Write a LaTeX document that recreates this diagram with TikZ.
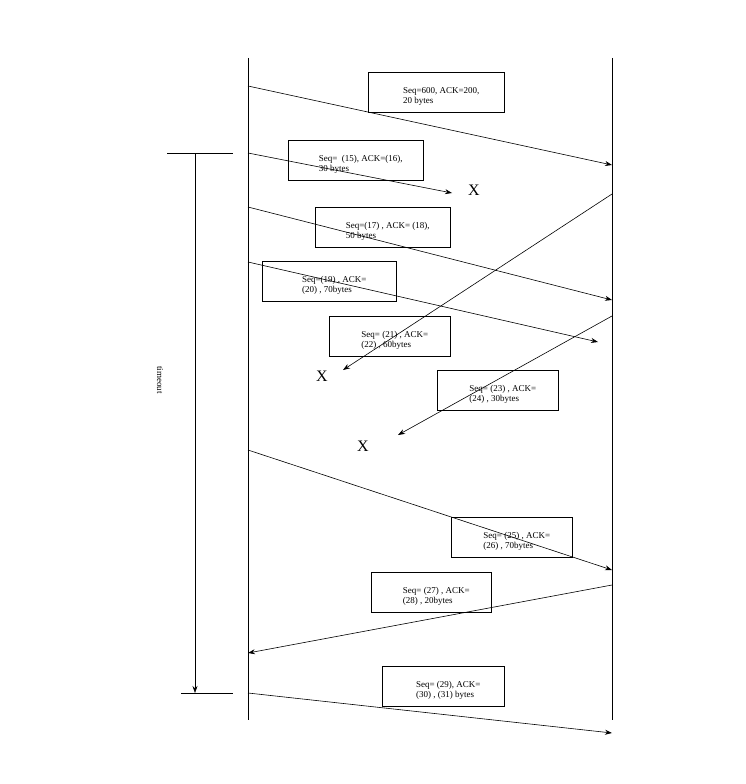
\documentclass[tikz,border=0pt]{standalone}
\usepackage{fontspec}
\setmainfont{Liberation Serif}
\usetikzlibrary{arrows.meta}
\begin{document}
\begin{tikzpicture}[x=1pt,y=-1pt,
  box/.style={draw,fill=white,line width=0.6pt,anchor=north west,minimum height=40pt,align=left,font=\fontsize{9}{10.5}\selectfont,inner sep=0pt,text depth=0pt},
  msg/.style={-{Stealth[length=7pt,width=5pt]},line width=0.6pt},
  xm/.style={font=\fontsize{16}{16}\selectfont}]
\useasboundingbox (0,0) rectangle (746,784);
\draw[line width=0.6pt] (248,58) -- (248,720);
\draw[line width=0.6pt] (612,58) -- (612,720);
% boxes
\node[box,minimum width=136pt] (A) at (368,72) {\hspace*{10pt}\begin{tabular}{@{}l@{}}Seq=600, ACK=200,\\20 bytes\end{tabular}};
\node[box,minimum width=135pt] (B) at (288,140) {\hspace*{10pt}\begin{tabular}{@{}l@{}}Seq=\ \ (15), ACK=(16),\\30 bytes\end{tabular}};
\node[box,minimum width=135pt] (C) at (315,207) {\hspace*{10pt}\begin{tabular}{@{}l@{}}Seq=(17) , ACK= (18),\\50 bytes\end{tabular}};
\node[box,minimum width=134pt] (D) at (262,261) {\hspace*{10pt}\begin{tabular}{@{}l@{}}Seq=(19) , ACK=\\(20) , 70bytes\end{tabular}};
\node[box,minimum width=121pt] (E) at (329,316) {\hspace*{10pt}\begin{tabular}{@{}l@{}}Seq= (21) , ACK=\\(22) , 60bytes\end{tabular}};
\node[box,minimum width=121pt] (F) at (437,370) {\hspace*{10pt}\begin{tabular}{@{}l@{}}Seq= (23) , ACK=\\(24) , 30bytes\end{tabular}};
\node[box,minimum width=121pt] (G) at (451,517) {\hspace*{10pt}\begin{tabular}{@{}l@{}}Seq= (25) , ACK=\\(26) , 70bytes\end{tabular}};
\node[box,minimum width=120pt] (H) at (371,572) {\hspace*{10pt}\begin{tabular}{@{}l@{}}Seq= (27) , ACK=\\(28) , 20bytes\end{tabular}};
\node[box,minimum width=122pt] (I) at (382,666) {\hspace*{10pt}\begin{tabular}{@{}l@{}}Seq= (29), ACK=\\(30) , (31) bytes\end{tabular}};
% endpoints
\coordinate (a1) at (248,86); \coordinate (b1) at (612,165);
\coordinate (a2) at (248,153); \coordinate (b2) at (452,193);
\coordinate (a3) at (248,207); \coordinate (b3) at (612,300);
\coordinate (a4) at (248,262); \coordinate (b4) at (598,342);
\coordinate (a5) at (612,194); \coordinate (b5) at (343,370);
\coordinate (a6) at (612,316); \coordinate (b6) at (398,435);
\coordinate (a7) at (248,450); \coordinate (b7) at (612,570);
\coordinate (a8) at (612,585); \coordinate (b8) at (248,653);
\coordinate (a9) at (248,693); \coordinate (b9) at (612,733);
\foreach \i in {1,...,9} \draw[msg] (a\i) -- (b\i);
\node[xm] (x1) at (474,190) {X};
\node[xm] (x2) at (322,376) {X};
\node[xm] (x3) at (363,446) {X};
% timeout
\coordinate (t1) at (167,153); \coordinate (t2) at (233,153);
\coordinate (t3) at (181,693); \coordinate (t4) at (233,693);
\coordinate (ts) at (195,153); \coordinate (te) at (195,693);
\draw[line width=0.6pt] (t1) -- (t2);
\draw[line width=0.6pt] (t3) -- (t4);
\draw[msg] (ts) -- (te);
\node[rotate=-90,font=\fontsize{9}{10}\selectfont] (to) at (160,380) {timeout};
\end{tikzpicture}
\end{document}
